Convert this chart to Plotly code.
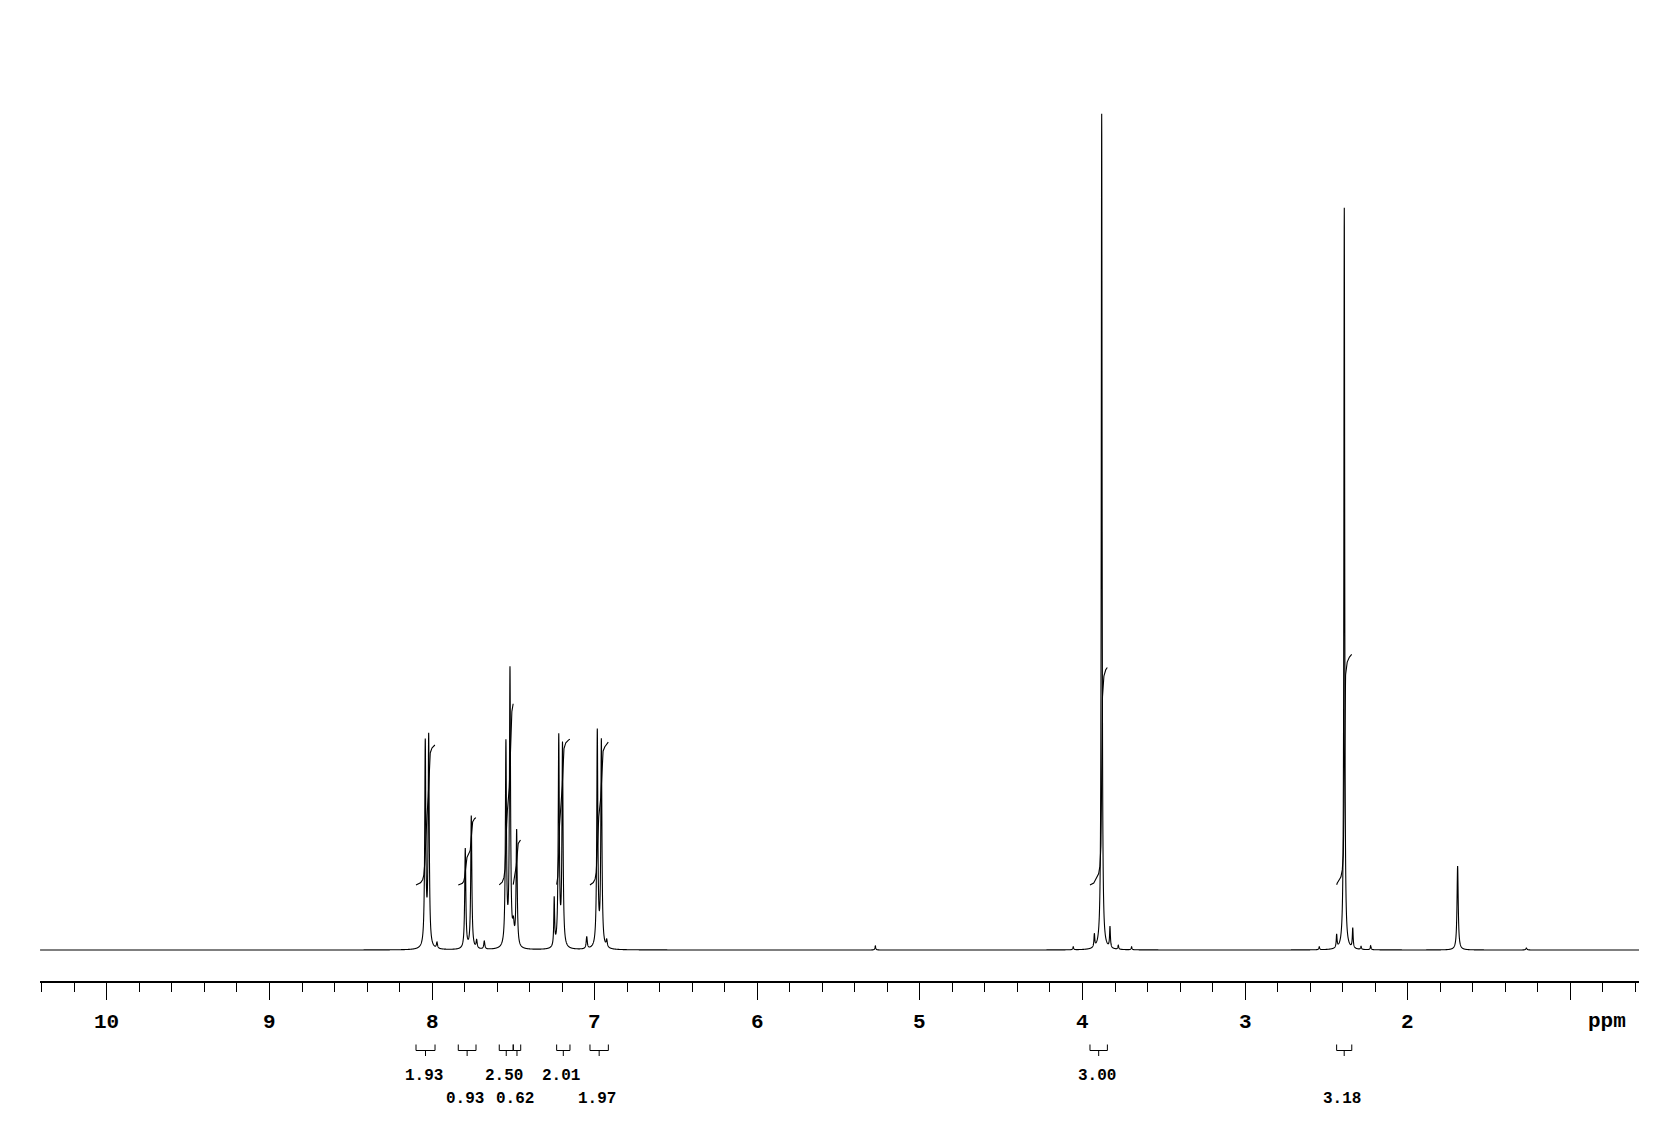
import numpy as np
import plotly.graph_objects as go

# ---- data ----
# peak list: chemical shift (ppm), height (arbitrary units), half-width (ppm)
peak_ppm = [8.042, 8.021, 7.970, 7.796, 7.759, 7.726, 7.679, 7.546, 7.521, 7.500,
            7.480, 7.249, 7.221, 7.198, 7.049, 6.984, 6.959, 6.926, 5.274, 4.057,
            3.927, 3.882, 3.831, 3.780, 3.698, 2.544, 2.437, 2.390, 2.338, 2.287,
            2.228, 1.693, 1.270]
peak_height = [204, 210, 6, 100, 133, 8, 8, 203, 276, 18,
               116, 48, 210, 202, 12, 216, 206, 7, 4, 3,
               13, 836, 21, 4, 3, 3, 13, 742, 20, 3,
               4, 84, 2]
peak_hw = [0.004, 0.004, 0.004, 0.004, 0.004, 0.004, 0.004, 0.004, 0.004, 0.006,
           0.004, 0.003, 0.004, 0.004, 0.004, 0.004, 0.004, 0.004, 0.003, 0.003,
           0.003, 0.003, 0.003, 0.003, 0.003, 0.003, 0.003, 0.003, 0.003, 0.003,
           0.003, 0.0044, 0.004]

# integral regions (ppm) and values
int_from = [8.099, 7.839, 7.587, 7.501, 7.234, 7.029, 3.954, 2.437]
int_to = [7.982, 7.730, 7.501, 7.455, 7.152, 6.916, 3.847, 2.344]
int_value = [1.93, 0.93, 2.50, 0.62, 2.01, 1.97, 3.00, 3.18]
int_label = ["1.93", "0.93", "2.50", "0.62", "2.01", "1.97", "3.00", "3.18"]

# axis ticks
tick_vals = [10, 9, 8, 7, 6, 5, 4, 3, 2]
tick_text = ["10", "9", "8", "7", "6", "5", "4", "3", "2"]
unit_label = "ppm"

# ---- spectrum line built from the peak list ----
X_LO, X_HI = 0.5775, 10.4114
grid = np.arange(X_LO, X_HI, 0.0005)
ppm = np.sort(np.concatenate([grid, np.array(peak_ppm)]))[::-1]
spec = np.zeros_like(ppm)
for p, h, w in zip(peak_ppm, peak_height, peak_hw):
    spec += h / (1.0 + ((ppm - p) / w) ** 2)

INT_BASE = 65.0     # integral trace start level
INT_SCALE = 72.5    # trace rise per unit of integral

fig = go.Figure()
fig.add_trace(go.Scatter(x=ppm, y=spec, mode="lines",
                         line=dict(color="#000000", width=1.1, simplify=False),
                         hoverinfo="skip"))

# integral traces
ix, iy = [], []
for a, b, v in zip(int_from, int_to, int_value):
    m = (ppm <= a) & (ppm >= b)
    xs = ppm[m]
    cs = np.cumsum(spec[m])
    cs = cs / cs[-1]
    ix += list(xs) + [None]
    iy += list(INT_BASE + v * INT_SCALE * cs) + [None]
fig.add_trace(go.Scatter(x=ix, y=iy, mode="lines",
                         line=dict(color="#000000", width=1.1),
                         hoverinfo="skip", connectgaps=False))

# integral brackets under the axis
ARM_TOP, BAR, STEM = -94.5, -100.5, -106.0
bx, by = [], []
for a, b in zip(int_from, int_to):
    mid = (a + b) / 2
    bx += [a, a, b, b, None, mid, mid, None]
    by += [ARM_TOP, BAR, BAR, ARM_TOP, None, BAR, STEM, None]
fig.add_trace(go.Scatter(x=bx, y=by, mode="lines",
                         line=dict(color="#000000", width=1),
                         hoverinfo="skip", connectgaps=False))

annotations = []
mono = "Liberation Mono, Courier New, DejaVu Sans Mono, monospace"
for v, t in zip(tick_vals, tick_text):
    annotations.append(dict(x=v, y=-72, xref="x", yref="y", text="<b>%s</b>" % t,
                            showarrow=False, xanchor="center", yanchor="middle",
                            font=dict(family=mono, size=21, color="#000")))
annotations.append(dict(x=0.776, y=-71, xref="x", yref="y", text="<b>%s</b>" % unit_label,
                        showarrow=False, xanchor="center", yanchor="middle",
                        font=dict(family=mono, size=21, color="#000")))
for i, (a, b, lab) in enumerate(zip(int_from, int_to, int_label)):
    annotations.append(dict(x=(a + b) / 2, y=(-126 if i % 2 == 0 else -148.5),
                            xref="x", yref="y", text="<b>%s</b>" % lab, xshift=-2,
                            showarrow=False, xanchor="center", yanchor="middle",
                            font=dict(family=mono, size=16, color="#000")))

fig.update_layout(
    width=1678, height=1132,
    margin=dict(l=40, r=39, t=40, b=20),
    paper_bgcolor="white", plot_bgcolor="white",
    showlegend=False, hovermode=False,
    annotations=annotations,
    xaxis=dict(range=[X_HI, X_LO], anchor="free", position=(1112 - 982) / 1072,
               showgrid=False, zeroline=False, showline=True, linecolor="#000",
               linewidth=1.5, ticks="outside", tickmode="array",
               tickvals=[1, 2, 3, 4, 5, 6, 7, 8, 9, 10], ticklen=17, tickwidth=1.4,
               tickcolor="#000", showticklabels=False,
               minor=dict(tickmode="linear", tick0=0, dtick=0.2, ticks="outside",
                          ticklen=9, tickwidth=1.3, tickcolor="#000")),
    yaxis=dict(range=[-162, 910], visible=False, showgrid=False, zeroline=False),
)

fig.write_html("out.html", config={"displayModeBar": False},
               post_script="document.body.style.margin='0';document.body.style.overflow='hidden';")
